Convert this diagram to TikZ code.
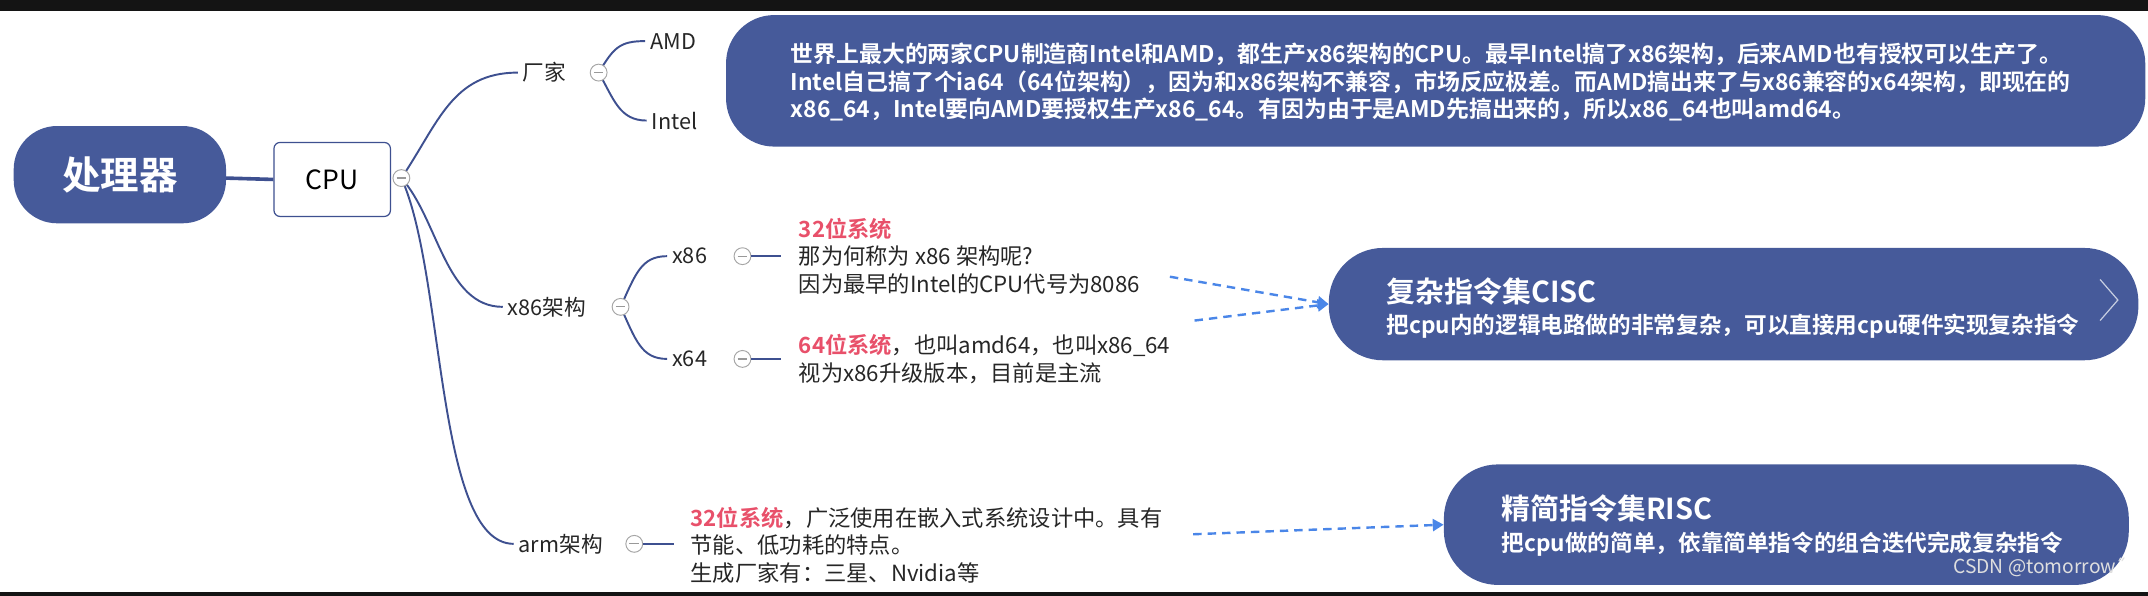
\documentclass[tikz,border=0pt]{standalone}
\usepackage{fontspec}
\setmainfont{Noto Sans CJK SC}
\newfontfamily\cjkb{Noto Sans CJK SC Bold}
\newfontfamily\dejavu{DejaVu Sans}
\usetikzlibrary{arrows.meta}
\definecolor{pill}{HTML}{465A9A}
\definecolor{branch}{HTML}{3E5090}
\definecolor{hot}{HTML}{E8506A}
\definecolor{dash}{HTML}{4A86E8}
\tikzset{
  pillbox/.style={fill=pill,rounded corners=40pt,inner sep=0pt,text=white},
  br/.style={draw=branch,line width=1.6pt},
  knob/.style={circle,draw=gray!70,fill=white,minimum size=14pt,inner sep=0pt,line width=0.8pt,
    path picture={\draw[gray!80,line width=1pt] ([xshift=-4pt]path picture bounding box.center) -- ([xshift=4pt]path picture bounding box.center);}},
  lbl/.style={font=\fontsize{18}{22}\selectfont,inner sep=4pt,text=black!85},
  body/.style={font=\fontsize{18.5}{22.8}\selectfont,align=left,anchor=west,inner sep=0pt,text=black!85},
  darr/.style={draw=dash,line width=2pt,dash pattern=on 7pt off 5pt,-{Triangle[length=9pt,width=10pt]}}
}
\begin{document}
\begin{tikzpicture}[x=0.04cm,y=-0.04cm]
\useasboundingbox (0,0) rectangle (1568,435);
\fill[black!92] (0,0) rectangle (1568,8);
\fill[black!92] (0,432) rectangle (1568,435);
% root
\node[pillbox,minimum width=155*0.04cm,minimum height=71*0.04cm,rounded corners=36pt] (root) at (87.5,127.5) {\cjkb\fontsize{32}{32}\selectfont 处理器};
\node[draw=branch,fill=white,rounded corners=5pt,line width=1pt,minimum width=85*0.04cm,minimum height=54*0.04cm] (cpu) at (242.5,131) {\fontsize{22}{22}\selectfont CPU};
\draw[branch,line width=3pt] (165,130) -- (cpu.west);
\coordinate (cpuk) at (293,130);
% first-level labels
\node[lbl,anchor=west] (vendor) at (378,53) {厂家};
\node[lbl,anchor=west] (x86a) at (367,224) {x86架构};
\node[lbl,anchor=west] (arma) at (375,397) {arm架构};
\draw[br] (cpuk) .. controls (320,90) and (330,53) .. (vendor.west);
\draw[br] (cpuk) .. controls (320,160) and (325,224) .. (x86a.west);
\draw[br] (cpuk) .. controls (325,200) and (318,397) .. (arma.west);
\node[knob] (cpuknob) at (cpuk) {};
% vendor
\coordinate (vk) at (437,53);
\node[lbl,anchor=west] (amd) at (471,30) {AMD};
\node[lbl,anchor=west] (intel) at (472,88) {Intel};
\draw[br] (vk) .. controls (448,35) and (452,30) .. (amd.west);
\draw[br] (vk) .. controls (448,72) and (452,88) .. (intel.west);
\node[knob] (vknob) at (vk) {};
\node[pillbox,minimum width=1036*0.04cm,minimum height=96*0.04cm] (vpill) at (1048,59) {};
\node[body,text=white,font=\cjkb\fontsize{19}{23}\selectfont] (vtext) at (577,60) {世界上最大的两家CPU制造商Intel和AMD，都生产x86架构的CPU。最早Intel搞了x86架构，后来AMD也有授权可以生产了。\\Intel自己搞了个ia64（64位架构），因为和x86架构不兼容，市场反应极差。而AMD搞出来了与x86兼容的x64架构，即现在的\\x86\_64，Intel要向AMD要授权生产x86\_64。有因为由于是AMD先搞出来的，所以x86\_64也叫amd64。};
% x86 arch
\coordinate (xk) at (453,224);
\node[lbl,anchor=west] (x86) at (487,187) {x86};
\node[lbl,anchor=west] (x64) at (487,262) {x64};
\draw[br] (xk) .. controls (464,200) and (468,187) .. (x86.west);
\draw[br] (xk) .. controls (464,248) and (468,262) .. (x64.west);
\node[knob] (xknob) at (xk) {};
\node[knob] (k86) at (542,187) {};
\node[knob] (k64) at (542,262) {};
\coordinate (e86) at (570,187);
\coordinate (e64) at (570,262);
\draw[br] (k86) -- (e86);
\draw[br] (k64) -- (e64);
\node[body] (t86) at (583,187) {{\cjkb\color{hot}32位系统}\\那为何称为 x86 架构呢?\\因为最早的Intel的CPU代号为8086};
\node[body] (t64) at (583,262) {{\cjkb\color{hot}64位系统}，也叫amd64，也叫x86\_64\\视为x86升级版本，目前是主流};
% arm
\node[knob] (ka) at (463,397) {};
\coordinate (ea) at (492,397);
\draw[br] (ka) -- (ea);
\node[body] (tarm) at (504,398) {{\cjkb\color{hot}32位系统}，广泛使用在嵌入式系统设计中。具有\\节能、低功耗的特点。\\生成厂家有：三星、Nvidia等};
% CISC / RISC
\node[pillbox,minimum width=591*0.04cm,minimum height=82*0.04cm,rounded corners=45pt] (cisc) at (1265.5,222) {};
\node[anchor=west,text=white,inner sep=0pt,font=\cjkb\fontsize{24}{24}\selectfont] (ct) at (1012,213) {复杂指令集CISC};
\node[anchor=west,text=white,inner sep=0pt,font=\cjkb\fontsize{18.8}{19}\selectfont] (cs) at (1012,238) {把cpu内的逻辑电路做的非常复杂，可以直接用cpu硬件实现复杂指令};
\draw[white!70!pill,line width=1pt] (1533,204) -- (1546,219) -- (1533,234);
\node[pillbox,minimum width=500*0.04cm,minimum height=88*0.04cm,rounded corners=45pt] (risc) at (1304,383) {};
\node[anchor=west,text=white,inner sep=0pt,font=\cjkb\fontsize{24}{24}\selectfont] (rt) at (1096,371) {精简指令集RISC};
\node[anchor=west,text=white,inner sep=0pt,font=\cjkb\fontsize{18.8}{19}\selectfont] (rs) at (1096,397) {把cpu做的简单，依靠简单指令的组合迭代完成复杂指令};
\node[anchor=east,text=white!75!gray,inner sep=0pt,font=\fontsize{16}{16}\selectfont] (wm) at (1552,414) {CSDN @tomorrow{\dejavu ˝}};
% dashed arrows
\coordinate (a1) at (854,202);
\coordinate (a2) at (872,234);
\coordinate (a3) at (871,390);
\draw[darr] (a1) -- (cisc.west);
\draw[darr] (a2) -- (cisc.west);
\draw[darr] (a3) -- (risc.west);
\end{tikzpicture}
\end{document}
